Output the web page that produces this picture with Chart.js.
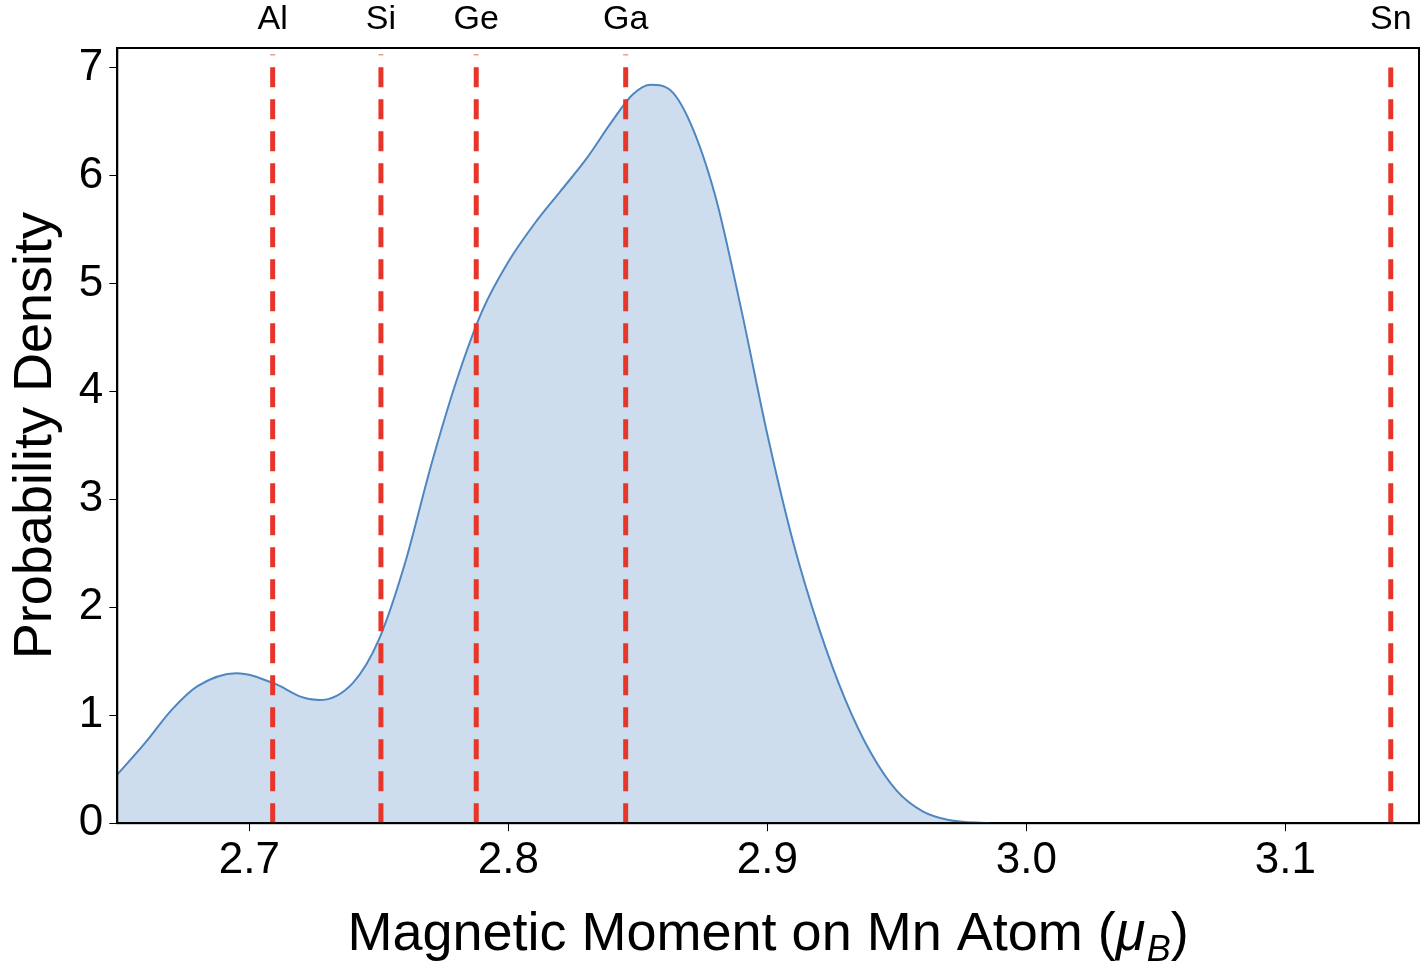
<!DOCTYPE html>
<html lang="en">
<head>
<meta charset="UTF-8" />
<title>Magnetic moment KDE</title>
<style>
  body { margin: 0; background: #fff; }
  .wrap { width: 1425px; height: 975px; }
</style>
</head>
<body>
<div class="wrap"><canvas id="c"></canvas></div>
<script src="https://cdn.jsdelivr.net/npm/chart.js"></script>
<script>
// KDE curve
const kdeX = [2.649, 2.66, 2.67, 2.68, 2.695, 2.71, 2.72, 2.727, 2.74, 2.75, 2.76, 2.77, 2.78, 2.79, 2.80,
  2.81, 2.82, 2.83, 2.84, 2.848, 2.855, 2.862, 2.87, 2.88, 2.89, 2.90, 2.91, 2.92, 2.93, 2.94, 2.95, 2.96, 2.97, 2.986];
const kdeY = [0.45, 0.75, 1.05, 1.27, 1.39, 1.29, 1.17, 1.14, 1.3, 1.7, 2.4, 3.3, 4.1, 4.75, 5.2,
  5.55, 5.85, 6.15, 6.5, 6.75, 6.84, 6.8, 6.5, 5.8, 4.75, 3.6, 2.6, 1.8, 1.15, 0.65, 0.3, 0.11, 0.03, 0.0];

const elements = ['Al', 'Si', 'Ge', 'Ga', 'Sn'];
const elementX = [2.709, 2.7508, 2.7876, 2.8453, 3.1407];
const lineTop = [7.12, 7.12, 7.12, 7.12, 7.0];

const xTicks = [2.7, 2.8, 2.9, 3.0, 3.1];
const yTicks = [0, 1, 2, 3, 4, 5, 6, 7];

const FONT = "'Liberation Sans', Arial, sans-serif";

const datasets = [{
  data: kdeX.map((x, i) => ({ x, y: kdeY[i] })),
  borderColor: '#4f86c0',
  backgroundColor: 'rgba(79,134,192,0.28)',
  borderWidth: 2,
  fill: 'origin',
  cubicInterpolationMode: 'monotone',
  pointRadius: 0,
  order: 2
}];
elementX.forEach((x, i) => {
  datasets.push({
    data: [{ x, y: 0 }, { x, y: lineTop[i] }],
    borderColor: '#e8352a',
    borderWidth: 5,
    borderDash: [20, 12],
    pointRadius: 0,
    fill: false,
    order: 1
  });
});

const extras = {
  id: 'extras',
  afterDraw(chart) {
    const { ctx, chartArea: a, scales } = chart;
    ctx.save();
    ctx.strokeStyle = '#000';
    ctx.lineWidth = 2;
    ctx.strokeRect(a.left, a.top, a.right - a.left, a.bottom - a.top);
    ctx.fillStyle = '#000';
    ctx.font = '34px ' + FONT;
    ctx.textAlign = 'center';
    ctx.textBaseline = 'middle';
    elements.forEach((name, i) => {
      ctx.fillText(name, scales.x.getPixelForValue(elementX[i]), 20);
    });
    // x axis title with subscript
    const main = 'Magnetic Moment on Mn Atom (';
    ctx.font = '54px ' + FONT;
    const w1 = ctx.measureText(main).width;
    const wMu = ctx.measureText('μ').width;
    ctx.font = 'italic 36px ' + FONT;
    const wB = ctx.measureText('B').width;
    ctx.font = '54px ' + FONT;
    const wEnd = ctx.measureText(')').width;
    const total = w1 + wMu + wB + wEnd;
    let x = (a.left + a.right) / 2 - total / 2;
    const y = 935;
    ctx.textAlign = 'left';
    ctx.fillText(main, x, y); x += w1;
    ctx.font = 'italic 54px ' + FONT;
    ctx.fillText('μ', x, y); x += wMu;
    ctx.font = 'italic 36px ' + FONT;
    ctx.fillText('B', x, y + 16); x += wB;
    ctx.font = '54px ' + FONT;
    ctx.fillText(')', x, y);
    ctx.restore();
  }
};

new Chart(document.getElementById('c'), {
  type: 'line',
  data: { datasets },
  options: {
    responsive: true,
    maintainAspectRatio: false,
    animation: false,
    layout: { padding: { top: 48, right: 6, left: 0, bottom: 85 } },
    plugins: { legend: { display: false }, tooltip: { enabled: false } },
    scales: {
      x: {
        type: 'linear',
        min: 2.649, max: 3.1516,
        afterBuildTicks: s => { s.ticks = xTicks.map(v => ({ value: v })); },
        ticks: { font: { size: 44, family: FONT }, color: '#000', callback: v => v.toFixed(1), maxRotation: 0 },
        grid: { drawOnChartArea: false, tickLength: 8, color: '#000' },
        border: { color: '#000', width: 2 }
      },
      y: {
        min: 0, max: 7.18,
        afterBuildTicks: s => { s.ticks = yTicks.map(v => ({ value: v })); },
        ticks: { font: { size: 44, family: FONT }, color: '#000', padding: 6 },
        grid: { drawOnChartArea: false, tickLength: 8, color: '#000' },
        border: { color: '#000', width: 2 },
        title: { display: true, text: 'Probability Density', font: { size: 54, family: FONT }, color: '#000', padding: { bottom: 4 } }
      }
    }
  },
  plugins: [extras]
});
</script>
</body>
</html>
